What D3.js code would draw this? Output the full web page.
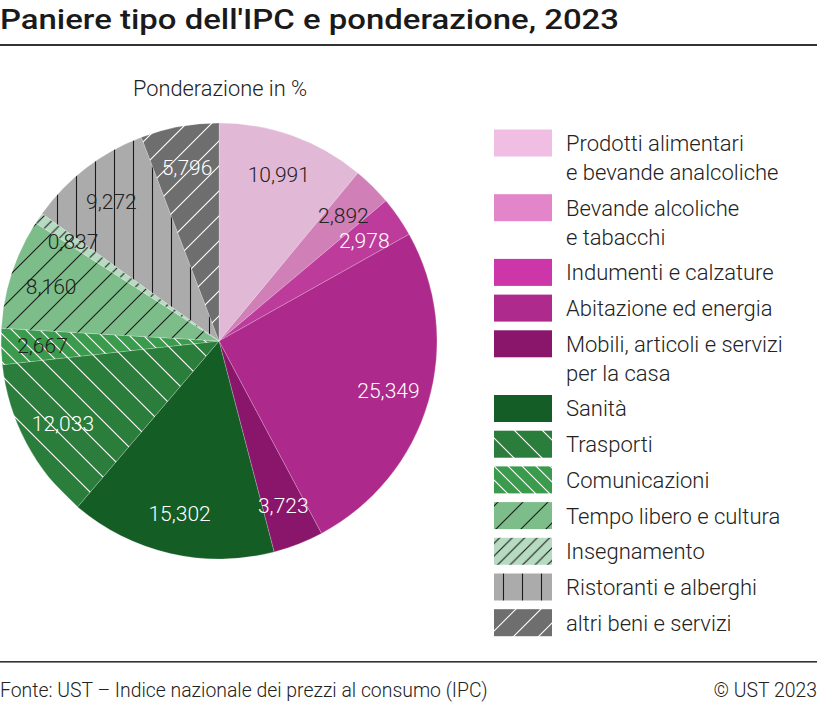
<!DOCTYPE html>
<html><head><meta charset="utf-8">
<script src="https://cdn.jsdelivr.net/npm/d3@7"></script>
<style>
body{margin:0;background:#fff;}
svg{display:block;font-family:Roboto,"Noto Sans",sans-serif;}
</style></head>
<body>
<svg id="chart" width="817" height="703"></svg>
<script>
const categories = ["Prodotti alimentari\ne bevande analcoliche","Bevande alcoliche\ne tabacchi","Indumenti e calzature","Abitazione ed energia","Mobili, articoli e servizi\nper la casa","Sanità","Trasporti","Comunicazioni","Tempo libero e cultura","Insegnamento","Ristoranti e alberghi","altri beni e servizi"];
const values = [10.991,2.892,2.978,25.349,3.723,15.302,12.033,2.667,8.160,0.837,9.272,5.796];
const valueLabels = ["10,991","2,892","2,978","25,349","3,723","15,302","12,033","2,667","8,160","0,837","9,272","5,796"];
const pieColors = ["#e2b8d7","#d07fb7","#bd3c9b","#ad298b","#8a166c","#145d25","#2a7d3b","#3a9b4d","#7cbd8a","#b6dbc0","#ababab","#6e6e6e"];
const legendColors = ["#f0bde3","#e286c9","#cc36a8","#ae2a8c","#8a166c","#145d26","#2a7d3b","#3a9b4d","#7cbd8a","#b6dbc0","#ababab","#6e6e6e"];
// hatch: [type, spacing, color]
const hatches = [null,null,null,null,null,null,["back",28,"#ffffff"],["back",14,"#ffffff"],["fwd",25,"#1a1a1a"],["fwd",12.5,"#1a1a1a"],["vert",19,"#1a1a1a"],["fwd",25,"#ffffff"]];
const labelDark = [true,true,false,false,false,false,false,true,true,true,true,false];
const title = "Paniere tipo dell'IPC e ponderazione, 2023";
const subtitle = "Ponderazione in %";
const source = "Fonte: UST – Indice nazionale dei prezzi al consumo (IPC)";
const copyright = "© UST 2023";

const svg = d3.select("#chart");
const W = 817, H = 703;
const textCol = "#222";

// Title
const t = svg.append("text").attr("x",0).attr("y",29).attr("font-size",28).attr("font-weight",500)
  .attr("fill","#1a1a1a").text(title);
t.attr("textLength",619).attr("lengthAdjust","spacingAndGlyphs");
svg.append("rect").attr("x",0).attr("y",44).attr("width",W).attr("height",2).attr("fill","#333");
svg.append("rect").attr("x",0).attr("y",661).attr("width",W).attr("height",1.6).attr("fill","#333");
svg.append("text").attr("x",0).attr("y",697).attr("font-size",19.4).attr("font-weight",300).attr("fill",textCol).text(source);
svg.append("text").attr("x",W).attr("y",697).attr("text-anchor","end").attr("font-size",19.4).attr("font-weight",300).attr("fill",textCol).text(copyright);
svg.append("text").attr("x",133).attr("y",96).attr("font-size",21.8).attr("font-weight",300).attr("fill",textCol).text(subtitle);

// patterns
const defs = svg.append("defs");
function makePattern(id, h, bg){
  const [type, w, col] = h;
  const p = defs.append("pattern").attr("id",id).attr("patternUnits","userSpaceOnUse")
    .attr("width",w).attr("height",w);
  p.append("rect").attr("width",w).attr("height",w).attr("fill",bg);
  let d;
  if(type==="fwd") d=`M0,${w}L${w},0M${-w/4},${w/4}L${w/4},${-w/4}M${3*w/4},${5*w/4}L${5*w/4},${3*w/4}`;
  else if(type==="back") d=`M0,0L${w},${w}M${-w/4},${3*w/4}L${w/4},${5*w/4}M${3*w/4},${-w/4}L${5*w/4},${w/4}`;
  else d=`M${w/2},0L${w/2},${w}`;
  p.append("path").attr("d",d).attr("stroke",col).attr("stroke-width",1.1).attr("fill","none");
}
const pieFill = values.map((v,i)=>{
  if(!hatches[i]) return pieColors[i];
  makePattern("pp"+i, hatches[i], pieColors[i]);
  return `url(#pp${i})`;
});
const legFill = values.map((v,i)=>{
  if(!hatches[i]) return legendColors[i];
  makePattern("lp"+i, hatches[i], legendColors[i]);
  return `url(#lp${i})`;
});

// Pie
const cx = 219, cy = 341, R = 218;
const pie = d3.pie().sort(null).value(d=>d);
const arcs = pie(values);
const arc = d3.arc().innerRadius(0).outerRadius(R);
const labelArc = d3.arc().innerRadius(R*0.81).outerRadius(R*0.81);
const g = svg.append("g").attr("transform",`translate(${cx},${cy})`);
g.selectAll("path.slice").data(arcs).join("path").attr("class","slice")
  .attr("d",arc).attr("fill",(d,i)=>pieFill[i])
  .attr("stroke","rgba(255,255,255,0.35)").attr("stroke-width",0.6);
g.selectAll("text.lbl").data(arcs).join("text").attr("class","lbl")
  .attr("transform",d=>`translate(${labelArc.centroid(d)})`)
  .attr("text-anchor","middle").attr("dy","0.36em")
  .attr("font-size",21).attr("font-weight",300)
  .attr("fill",(d,i)=>labelDark[i]?textCol:"#ffffff")
  .text((d,i)=>valueLabels[i]);

// Legend
const lx = 494, tx = 566, lineH = 29, rowGap = 35.7;
let yc = 143;
const lg = svg.append("g");
categories.forEach((c,i)=>{
  const lines = c.split("\n");
  lg.append("rect").attr("x",lx).attr("y",yc-13.5).attr("width",58).attr("height",27).attr("fill",legFill[i]);
  lines.forEach((ln,j)=>{
    lg.append("text").attr("x",tx).attr("y",yc+j*lineH).attr("dy","0.36em")
      .attr("font-size",22).attr("font-weight",300).attr("fill",textCol).text(ln);
  });
  yc += (lines.length-1)*lineH + rowGap;
});
</script>
</body></html>
